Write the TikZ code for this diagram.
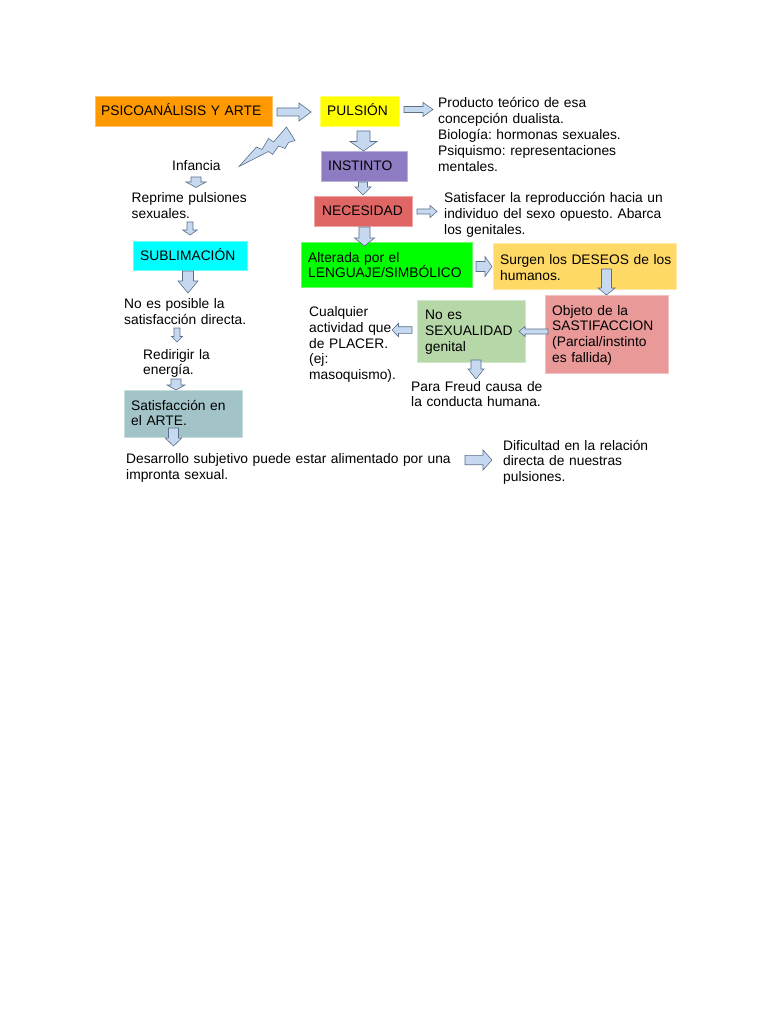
\documentclass[tikz,border=0pt]{standalone}
\usepackage{fontspec}
\setmainfont{Liberation Sans}
\frenchspacing
\definecolor{cOrange}{HTML}{FF9900}
\definecolor{cYellow}{HTML}{FFFF00}
\definecolor{cPurple}{HTML}{8E7CC3}
\definecolor{cRed}{HTML}{E06666}
\definecolor{cGreen}{HTML}{00FF00}
\definecolor{cGold}{HTML}{FFD966}
\definecolor{cPink}{HTML}{EA9999}
\definecolor{cSage}{HTML}{B6D7A8}
\definecolor{cCyan}{HTML}{00FFFF}
\definecolor{cTeal}{HTML}{A2C4C9}
\definecolor{arrfill}{HTML}{C6D9F0}
\definecolor{arrline}{HTML}{5A6F8A}
\newcommand\fs{\fontsize{13.8}{15.8}\selectfont}
\tikzset{
  box/.style={anchor=north west, inner sep=0pt, line width=0.8pt, fill=#1, draw=#1!60!white},
  txt/.style={anchor=base west, inner sep=0pt, text width=#1, align=left, font=\fs},
  txt/.default=330pt,
  barrow/.style={fill=arrfill, draw=arrline, line width=0.6pt, line join=miter},
}
% right arrow: x start, x tip, y centre, shaft half, head half, head length
\newcommand\harr[6]{\draw[barrow] (#1,{#3-#4}) -- ({#2-#6},{#3-#4}) -- ({#2-#6},{#3-#5}) -- (#2,#3) -- ({#2-#6},{#3+#5}) -- ({#2-#6},{#3+#4}) -- (#1,{#3+#4}) -- cycle;}
% left arrow: x start, x tip, y centre, shaft half, head half, head length
\newcommand\larr[6]{\draw[barrow] (#1,{#3-#4}) -- ({#2+#6},{#3-#4}) -- ({#2+#6},{#3-#5}) -- (#2,#3) -- ({#2+#6},{#3+#5}) -- ({#2+#6},{#3+#4}) -- (#1,{#3+#4}) -- cycle;}
% down arrow: x centre, y start, y tip, shaft half, head half, head length
\newcommand\varr[6]{\draw[barrow] ({#1-#4},#2) -- ({#1-#4},{#3-#6}) -- ({#1-#5},{#3-#6}) -- (#1,#3) -- ({#1+#5},{#3-#6}) -- ({#1+#4},{#3-#6}) -- ({#1+#4},#2) -- cycle;}
\begin{document}
\begin{tikzpicture}[x=1pt,y=-1pt]
\useasboundingbox[fill=white] (0,0) rectangle (768,1024);

% boxes
\node[box=cOrange, minimum width=177pt, minimum height=30pt] (psico) at (95,96) {};
\node[box=cYellow, minimum width=79pt, minimum height=30pt] (pulsion) at (320,96) {};
\node[box=cPurple, minimum width=86pt, minimum height=30pt] (instinto) at (321,151) {};
\node[box=cRed, minimum width=98pt, minimum height=30pt] (necesidad) at (314,196) {};
\node[box=cGreen, minimum width=171pt, minimum height=45pt] (alterada) at (301,242) {};
\node[box=cGold, minimum width=183pt, minimum height=46pt] (surgen) at (493,243) {};
\node[box=cPink, minimum width=123pt, minimum height=78pt] (objeto) at (545,295) {};
\node[box=cSage, minimum width=108pt, minimum height=62pt] (noes) at (417,300) {};
\node[box=cCyan, minimum width=114pt, minimum height=29pt] (sublim) at (133,241) {};
\node[box=cTeal, minimum width=118pt, minimum height=47pt] (satisf) at (124,390) {};

% box texts
\node[txt] (psicoT) at (101,115.5) {PSICOANÁLISIS Y ARTE};
\node[txt] (pulsionT) at (327,115.5) {PULSIÓN};
\node[txt] (instintoT) at (328,171) {INSTINTO};
\node[txt] (necesidadT) at (322,216) {NECESIDAD};
\node[txt] (alteradaT) at (308,262) {Alterada por el\\LENGUAJE/SIMBÓLICO};
\node[txt] (surgenT) at (500,264.5) {Surgen los DESEOS de los\\humanos.};
\node[txt] (objetoT) at (552,315) {Objeto de la\\SASTIFACCION\\(Parcial/instinto\\es fallida)};
\node[txt] (noesT) at (425,319.5) {No es\\SEXUALIDAD\\genital};
\node[txt] (sublimT) at (140,260.5) {SUBLIMACIÓN};
\node[txt] (satisfT) at (131,410) {Satisfacción en\\el ARTE.};

% free texts
\node[txt] (producto) at (438,108) {Producto teórico de esa\\concepción dualista.\\Biología: hormonas sexuales.\\Psiquismo: representaciones\\mentales.};
\node[txt] (satisfacer) at (444,202.5) {Satisfacer la reproducción hacia un\\individuo del sexo opuesto. Abarca\\los genitales.};
\node[txt] (infancia) at (172,171) {Infancia};
\node[txt] (reprime) at (131.5,202.5) {Reprime pulsiones\\sexuales.};
\node[txt] (noposible) at (124,308.5) {No es posible la\\satisfacción directa.};
\node[txt] (redirigir) at (143,359) {Redirigir la\\energía.};
\node[txt] (desarrollo) at (126,463.5) {Desarrollo subjetivo puede estar alimentado por una\\impronta sexual.};
\node[txt] (cualquier) at (309,316.5) {Cualquier\\actividad que\\de PLACER.\\(ej:\\masoquismo).};
\node[txt] (freud) at (411,391) {Para Freud causa de\\la conducta humana.};
\node[txt] (dificultad) at (503,450) {Dificultad en la relación\\directa de nuestras\\pulsiones.};

% block arrows
\harr{277}{311}{112}{4}{9}{12}
\harr{404}{433}{109.5}{3}{7}{10}
\varr{363.5}{131}{151}{6.5}{13.5}{9.5}
\varr{363}{182}{195}{4.5}{8}{8}
\harr{417}{437}{211.5}{2.5}{6}{7}
\varr{364.5}{227}{246}{5.5}{10}{8}
\harr{476}{492}{266.5}{5}{10}{7}
\varr{606.5}{269}{295}{5}{8.5}{7}
\larr{548}{519}{331.5}{2.5}{5}{6}
\larr{412}{392}{330}{3.3}{6.7}{6.5}
\varr{476}{360}{379}{5}{8}{10}
\harr{465}{492}{460}{4.7}{10}{9}
\varr{196}{177}{187.5}{5}{10}{5.5}
\varr{190}{222}{235}{3}{7.3}{5}
\varr{188}{271}{293}{5.5}{10}{12}
\varr{177}{328}{342}{3}{5.5}{5.5}
\varr{176}{379}{390}{5}{9}{5}
\varr{173.5}{428}{446}{5}{8.3}{8}

% lightning bolt
\draw[barrow] (239,166.5) -- (256.5,147) -- (262,149.5) -- (268.5,138.5) -- (273.5,142) -- (286.5,127) -- (295,140.5) -- (288.5,142.5) -- (285,148.5) -- (278.5,146) -- (272.5,154.5) -- (268.5,151.5) -- cycle;
\end{tikzpicture}
\end{document}
